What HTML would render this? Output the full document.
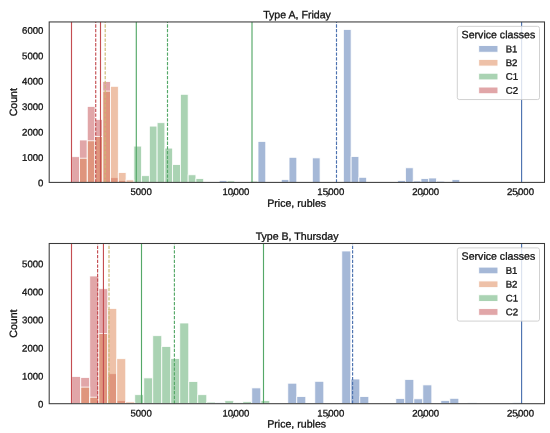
<!DOCTYPE html>
<html lang="en"><head><meta charset="utf-8"><title>Price histograms by service class</title>
<style>html,body{margin:0;padding:0;background:#fff}svg{display:block}text{font-family:"Liberation Sans",sans-serif;fill:#111;stroke:#111;stroke-width:0.3px;text-rendering:geometricPrecision}.b{font-size:10.6px}.s{font-size:9.6px}.cm{font-size:16px;font-family:"Liberation Serif",serif;font-style:italic;stroke:none;fill:#333}</style></head><body>
<svg width="550" height="433" viewBox="0 0 550 433">
<rect width="550" height="433" fill="#fff"/>
<g>
<g fill="#C44E52" fill-opacity="0.5" stroke="#fff" stroke-width="0.8">
<rect x="71.75" y="156.70" width="7.76" height="25.70"/>
<rect x="79.51" y="140.00" width="7.76" height="42.40"/>
<rect x="87.27" y="106.40" width="7.76" height="76.00"/>
<rect x="95.03" y="119.40" width="7.76" height="63.00"/>
<rect x="102.79" y="81.60" width="7.76" height="100.80"/>
<rect x="110.55" y="177.70" width="7.76" height="4.70"/>
<rect x="118.31" y="180.60" width="7.76" height="1.80"/>
</g>
<g fill="#55A868" fill-opacity="0.5" stroke="#fff" stroke-width="0.8">
<rect x="133.83" y="146.10" width="7.76" height="36.30"/>
<rect x="141.59" y="175.70" width="7.76" height="6.70"/>
<rect x="149.35" y="126.10" width="7.76" height="56.30"/>
<rect x="157.11" y="122.70" width="7.76" height="59.70"/>
<rect x="164.87" y="148.10" width="7.76" height="34.30"/>
<rect x="172.63" y="164.60" width="7.76" height="17.80"/>
<rect x="180.39" y="94.30" width="7.76" height="88.10"/>
<rect x="188.16" y="174.80" width="7.76" height="7.60"/>
<rect x="195.92" y="178.60" width="7.76" height="3.80"/>
<rect x="226.96" y="180.90" width="7.76" height="1.50"/>
<rect x="250.24" y="181.10" width="7.76" height="1.30"/>
</g>
<g fill="#DD8452" fill-opacity="0.5" stroke="#fff" stroke-width="0.8">
<rect x="79.51" y="158.20" width="7.76" height="24.20"/>
<rect x="87.27" y="140.80" width="7.76" height="41.60"/>
<rect x="95.03" y="136.60" width="7.76" height="45.80"/>
<rect x="102.79" y="91.10" width="7.76" height="91.30"/>
<rect x="110.55" y="86.30" width="7.76" height="96.10"/>
<rect x="118.31" y="172.60" width="7.76" height="9.80"/>
<rect x="126.07" y="179.90" width="7.76" height="2.50"/>
</g>
<g fill="#4C72B0" fill-opacity="0.5" stroke="#fff" stroke-width="0.8">
<rect x="219.20" y="180.50" width="7.76" height="1.90"/>
<rect x="258.00" y="141.40" width="7.76" height="41.00"/>
<rect x="281.28" y="179.50" width="7.76" height="2.90"/>
<rect x="289.04" y="157.30" width="7.76" height="25.10"/>
<rect x="312.32" y="157.90" width="7.76" height="24.50"/>
<rect x="343.36" y="29.50" width="7.76" height="152.90"/>
<rect x="351.12" y="156.60" width="7.76" height="25.80"/>
<rect x="358.88" y="177.30" width="7.76" height="5.10"/>
<rect x="397.68" y="180.50" width="7.76" height="1.90"/>
<rect x="405.44" y="167.80" width="7.76" height="14.60"/>
<rect x="413.21" y="181.00" width="7.76" height="1.40"/>
<rect x="420.97" y="178.60" width="7.76" height="3.80"/>
<rect x="428.73" y="178.00" width="7.76" height="4.40"/>
<rect x="436.49" y="181.20" width="7.76" height="1.20"/>
<rect x="452.01" y="179.60" width="7.76" height="2.80"/>
</g>
<line x1="71.50" y1="182.40" x2="71.50" y2="21.95" stroke="#C44E52" stroke-width="1.15"/>
<line x1="95.72" y1="182.40" x2="95.72" y2="21.95" stroke="#C44E52" stroke-width="1.15" stroke-dasharray="3.27 1.42"/>
<line x1="100.50" y1="182.40" x2="100.50" y2="21.95" stroke="#C44E52" stroke-width="1.15"/>
<line x1="105.20" y1="182.40" x2="105.20" y2="21.95" stroke="#CCB974" stroke-width="1.15" stroke-dasharray="3.27 1.42"/>
<line x1="136.30" y1="182.40" x2="136.30" y2="21.95" stroke="#55A868" stroke-width="1.15"/>
<line x1="167.50" y1="182.40" x2="167.50" y2="21.95" stroke="#55A868" stroke-width="1.15" stroke-dasharray="3.27 1.42"/>
<line x1="252.00" y1="182.40" x2="252.00" y2="21.95" stroke="#55A868" stroke-width="1.15"/>
<line x1="336.50" y1="182.40" x2="336.50" y2="21.95" stroke="#4C72B0" stroke-width="1.15" stroke-dasharray="3.27 1.42"/>
<line x1="521.60" y1="182.40" x2="521.60" y2="21.95" stroke="#4C72B0" stroke-width="1.15"/>
<rect x="49.20" y="21.95" width="495.30" height="160.45" fill="none" stroke="#3a3a3a" stroke-width="1.05"/>
<text class="b" transform="translate(297.05 18.25) rotate(0.05)" text-anchor="middle">Type A, Friday</text>
<text class="b" transform="translate(296.65 206.80) rotate(0.05)" text-anchor="middle">Price, rubles</text>
<text class="b" transform="translate(17.4 102.17) rotate(-90)" text-anchor="middle">Count</text>
<text class="s" transform="translate(141.10 195.00) rotate(0.05)" text-anchor="middle">5000</text>
<text class="s" transform="translate(235.95 195.00) rotate(0.05)" text-anchor="middle">10<tspan class="cm" dx="-1.9" dy="-0.7">,</tspan><tspan dx="-1.8" dy="0.7">000</tspan></text>
<text class="s" transform="translate(330.80 195.00) rotate(0.05)" text-anchor="middle">15<tspan class="cm" dx="-1.9" dy="-0.7">,</tspan><tspan dx="-1.8" dy="0.7">000</tspan></text>
<text class="s" transform="translate(425.65 195.00) rotate(0.05)" text-anchor="middle">20<tspan class="cm" dx="-1.9" dy="-0.7">,</tspan><tspan dx="-1.8" dy="0.7">000</tspan></text>
<text class="s" transform="translate(520.50 195.00) rotate(0.05)" text-anchor="middle">25<tspan class="cm" dx="-1.9" dy="-0.7">,</tspan><tspan dx="-1.8" dy="0.7">000</tspan></text>
<text class="s" transform="translate(43.40 186.30) rotate(0.05)" text-anchor="end">0</text>
<text class="s" transform="translate(43.40 160.88) rotate(0.05)" text-anchor="end">1000</text>
<text class="s" transform="translate(43.40 135.45) rotate(0.05)" text-anchor="end">2000</text>
<text class="s" transform="translate(43.40 110.03) rotate(0.05)" text-anchor="end">3000</text>
<text class="s" transform="translate(43.40 84.60) rotate(0.05)" text-anchor="end">4000</text>
<text class="s" transform="translate(43.40 59.18) rotate(0.05)" text-anchor="end">5000</text>
<text class="s" transform="translate(43.40 33.75) rotate(0.05)" text-anchor="end">6000</text>
<rect x="457.3" y="26.35" width="82.2" height="73.2" rx="2" ry="2" fill="#fff" fill-opacity="0.8" stroke="#ccc" stroke-width="0.9"/>
<text class="b" transform="translate(498.40 38.25) rotate(0.05)" text-anchor="middle">Service classes</text>
<rect x="478.7" y="45.55" width="19.25" height="6.7" fill="#4C72B0" fill-opacity="0.5" stroke="#fff" stroke-width="0.9"/>
<text class="s" transform="translate(505.70 52.20) rotate(0.05)">B1</text>
<rect x="478.7" y="59.38" width="19.25" height="6.7" fill="#DD8452" fill-opacity="0.5" stroke="#fff" stroke-width="0.9"/>
<text class="s" transform="translate(505.70 66.03) rotate(0.05)">B2</text>
<rect x="478.7" y="73.21" width="19.25" height="6.7" fill="#55A868" fill-opacity="0.5" stroke="#fff" stroke-width="0.9"/>
<text class="s" transform="translate(505.70 79.86) rotate(0.05)">C1</text>
<rect x="478.7" y="87.04" width="19.25" height="6.7" fill="#C44E52" fill-opacity="0.5" stroke="#fff" stroke-width="0.9"/>
<text class="s" transform="translate(505.70 93.69) rotate(0.05)">C2</text>
</g>
<g>
<g fill="#C44E52" fill-opacity="0.5" stroke="#fff" stroke-width="0.8">
<rect x="71.75" y="376.50" width="9.00" height="27.20"/>
<rect x="80.75" y="377.50" width="9.00" height="26.20"/>
<rect x="89.75" y="276.00" width="9.00" height="127.70"/>
<rect x="98.76" y="288.70" width="9.00" height="115.00"/>
<rect x="107.76" y="373.70" width="9.00" height="30.00"/>
<rect x="116.76" y="400.60" width="9.00" height="3.10"/>
</g>
<g fill="#55A868" fill-opacity="0.5" stroke="#fff" stroke-width="0.8">
<rect x="134.76" y="394.70" width="9.00" height="9.00"/>
<rect x="143.77" y="377.90" width="9.00" height="25.80"/>
<rect x="152.77" y="335.70" width="9.00" height="68.00"/>
<rect x="161.77" y="346.50" width="9.00" height="57.20"/>
<rect x="170.77" y="358.60" width="9.00" height="45.10"/>
<rect x="179.77" y="323.00" width="9.00" height="80.70"/>
<rect x="188.78" y="381.60" width="9.00" height="22.10"/>
<rect x="197.78" y="394.70" width="9.00" height="9.00"/>
<rect x="206.78" y="402.10" width="9.00" height="1.60"/>
<rect x="224.78" y="400.70" width="9.00" height="3.00"/>
<rect x="233.79" y="402.40" width="9.00" height="1.30"/>
<rect x="242.79" y="401.70" width="9.00" height="2.00"/>
<rect x="260.79" y="400.60" width="9.00" height="3.10"/>
</g>
<g fill="#DD8452" fill-opacity="0.5" stroke="#fff" stroke-width="0.8">
<rect x="80.75" y="387.10" width="9.00" height="16.60"/>
<rect x="89.75" y="397.20" width="9.00" height="6.50"/>
<rect x="98.76" y="333.50" width="9.00" height="70.20"/>
<rect x="107.76" y="308.40" width="9.00" height="95.30"/>
<rect x="116.76" y="358.70" width="9.00" height="45.00"/>
<rect x="125.76" y="401.90" width="9.00" height="1.80"/>
</g>
<g fill="#4C72B0" fill-opacity="0.5" stroke="#fff" stroke-width="0.8">
<rect x="215.78" y="402.40" width="9.00" height="1.30"/>
<rect x="251.79" y="387.90" width="9.00" height="15.80"/>
<rect x="287.80" y="383.20" width="9.00" height="20.50"/>
<rect x="296.80" y="396.60" width="9.00" height="7.10"/>
<rect x="314.80" y="381.30" width="9.00" height="22.40"/>
<rect x="341.81" y="251.00" width="9.00" height="152.70"/>
<rect x="350.81" y="379.00" width="9.00" height="24.70"/>
<rect x="359.81" y="396.60" width="9.00" height="7.10"/>
<rect x="395.82" y="398.50" width="9.00" height="5.20"/>
<rect x="404.82" y="379.40" width="9.00" height="24.30"/>
<rect x="413.83" y="398.80" width="9.00" height="4.90"/>
<rect x="422.83" y="384.90" width="9.00" height="18.80"/>
<rect x="440.83" y="400.40" width="9.00" height="3.30"/>
<rect x="449.83" y="398.30" width="9.00" height="5.40"/>
<rect x="467.84" y="402.60" width="9.00" height="1.10"/>
<rect x="512.85" y="402.40" width="9.00" height="1.30"/>
</g>
<line x1="71.50" y1="403.70" x2="71.50" y2="243.50" stroke="#C44E52" stroke-width="1.15"/>
<line x1="97.60" y1="403.70" x2="97.60" y2="243.50" stroke="#C44E52" stroke-width="1.15" stroke-dasharray="3.27 1.42"/>
<line x1="103.45" y1="403.70" x2="103.45" y2="243.50" stroke="#C44E52" stroke-width="1.15"/>
<line x1="109.00" y1="403.70" x2="109.00" y2="243.50" stroke="#CCB974" stroke-width="1.15" stroke-dasharray="3.27 1.42"/>
<line x1="141.50" y1="403.70" x2="141.50" y2="243.50" stroke="#55A868" stroke-width="1.15"/>
<line x1="174.40" y1="403.70" x2="174.40" y2="243.50" stroke="#55A868" stroke-width="1.15" stroke-dasharray="3.27 1.42"/>
<line x1="263.50" y1="403.70" x2="263.50" y2="243.50" stroke="#55A868" stroke-width="1.15"/>
<line x1="352.60" y1="403.70" x2="352.60" y2="243.50" stroke="#4C72B0" stroke-width="1.15" stroke-dasharray="3.27 1.42"/>
<line x1="521.60" y1="403.70" x2="521.60" y2="243.50" stroke="#4C72B0" stroke-width="1.15"/>
<rect x="49.20" y="243.50" width="495.30" height="160.20" fill="none" stroke="#3a3a3a" stroke-width="1.05"/>
<text class="b" transform="translate(297.05 239.80) rotate(0.05)" text-anchor="middle">Type B, Thursday</text>
<text class="b" transform="translate(296.65 427.50) rotate(0.05)" text-anchor="middle">Price, rubles</text>
<text class="b" transform="translate(17.4 323.60) rotate(-90)" text-anchor="middle">Count</text>
<text class="s" transform="translate(141.10 416.60) rotate(0.05)" text-anchor="middle">5000</text>
<text class="s" transform="translate(235.95 416.60) rotate(0.05)" text-anchor="middle">10<tspan class="cm" dx="-1.9" dy="-0.7">,</tspan><tspan dx="-1.8" dy="0.7">000</tspan></text>
<text class="s" transform="translate(330.80 416.60) rotate(0.05)" text-anchor="middle">15<tspan class="cm" dx="-1.9" dy="-0.7">,</tspan><tspan dx="-1.8" dy="0.7">000</tspan></text>
<text class="s" transform="translate(425.65 416.60) rotate(0.05)" text-anchor="middle">20<tspan class="cm" dx="-1.9" dy="-0.7">,</tspan><tspan dx="-1.8" dy="0.7">000</tspan></text>
<text class="s" transform="translate(520.50 416.60) rotate(0.05)" text-anchor="middle">25<tspan class="cm" dx="-1.9" dy="-0.7">,</tspan><tspan dx="-1.8" dy="0.7">000</tspan></text>
<text class="s" transform="translate(43.40 407.60) rotate(0.05)" text-anchor="end">0</text>
<text class="s" transform="translate(43.40 379.51) rotate(0.05)" text-anchor="end">1000</text>
<text class="s" transform="translate(43.40 351.42) rotate(0.05)" text-anchor="end">2000</text>
<text class="s" transform="translate(43.40 323.33) rotate(0.05)" text-anchor="end">3000</text>
<text class="s" transform="translate(43.40 295.24) rotate(0.05)" text-anchor="end">4000</text>
<text class="s" transform="translate(43.40 267.15) rotate(0.05)" text-anchor="end">5000</text>
<rect x="457.3" y="247.90" width="82.2" height="73.2" rx="2" ry="2" fill="#fff" fill-opacity="0.8" stroke="#ccc" stroke-width="0.9"/>
<text class="b" transform="translate(498.40 259.80) rotate(0.05)" text-anchor="middle">Service classes</text>
<rect x="478.7" y="267.10" width="19.25" height="6.7" fill="#4C72B0" fill-opacity="0.5" stroke="#fff" stroke-width="0.9"/>
<text class="s" transform="translate(505.70 273.75) rotate(0.05)">B1</text>
<rect x="478.7" y="280.93" width="19.25" height="6.7" fill="#DD8452" fill-opacity="0.5" stroke="#fff" stroke-width="0.9"/>
<text class="s" transform="translate(505.70 287.58) rotate(0.05)">B2</text>
<rect x="478.7" y="294.76" width="19.25" height="6.7" fill="#55A868" fill-opacity="0.5" stroke="#fff" stroke-width="0.9"/>
<text class="s" transform="translate(505.70 301.41) rotate(0.05)">C1</text>
<rect x="478.7" y="308.59" width="19.25" height="6.7" fill="#C44E52" fill-opacity="0.5" stroke="#fff" stroke-width="0.9"/>
<text class="s" transform="translate(505.70 315.24) rotate(0.05)">C2</text>
</g>
</svg></body></html>
